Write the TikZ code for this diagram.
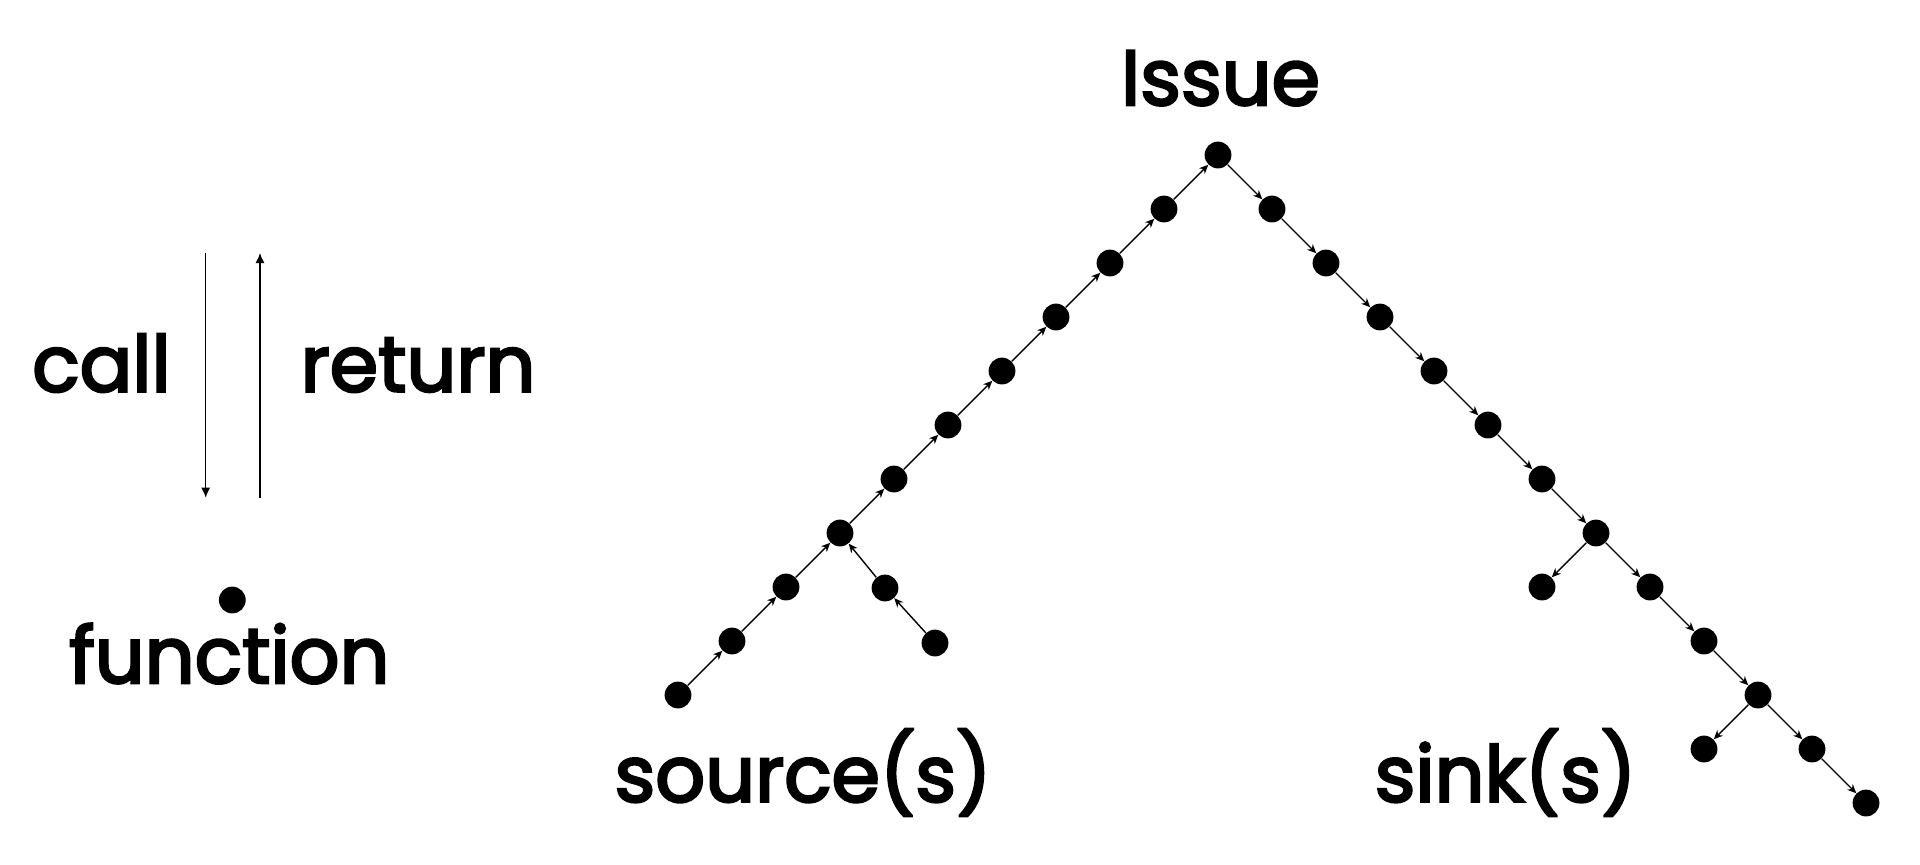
\documentclass[tikz,border=0pt]{standalone}
\usepackage{fontspec}
\setmainfont{Poppins}
\newfontfamily\lblfont{Poppins}[FakeBold=3.2]
\usetikzlibrary{arrows.meta}
\begin{document}
\begin{tikzpicture}[x=0.5pt,y=-0.5pt,
  dot/.style={circle,fill=black,inner sep=0pt,minimum size=13.4pt},
  edge/.style={-{Stealth[length=4.5pt,width=4pt]},line width=0.7pt},
  legarrow/.style={-{Latex[length=5pt,width=4.5pt]},line width=0.65pt},
  lbl/.style={font=\lblfont\fontsize{39}{39}\selectfont,inner sep=0pt,anchor=base}]
\useasboundingbox (0,0) rectangle (1920,864);
% labels
\node[lbl] (issue) at (1220.5,105) {Issue};
\node[lbl] (source) at (803,801.7) {source(s)};
\node[lbl] (sink) at (1505.5,801.7) {sink(s)};
\node[lbl] (call) at (101.5,391.5) {call};
\node[lbl] (return) at (418,391.5) {return};
\node[lbl] (function) at (229.3,683) {function};
% legend
\node[dot] (fdot) at (232.3,600) {};
\coordinate (c1) at (205.7,252.7);
\coordinate (c2) at (205.7,497.7);
\coordinate (r1) at (260,497.7);
\coordinate (r2) at (260,253);
\draw[legarrow] (c1) -- (c2);
\draw[legarrow] (r1) -- (r2);
% tree nodes
\node[dot] (L0) at (1218,155) {};
\foreach \i in {1,...,10}{
  \node[dot] (L\i) at ({1218-54*\i},{155+54*\i}) {};
}
\foreach \i in {1,...,12}{
  \node[dot] (R\i) at ({1218+54*\i},{155+54*\i}) {};
}
\node[dot] (LB1) at (885,588) {};
\node[dot] (LB2) at (935,643) {};
\node[dot] (RB1) at (1542,587) {};
\node[dot] (RB2) at (1704,749) {};
% left chain: arrows towards the issue
\foreach \i [evaluate=\i as \j using int(\i-1)] in {1,...,10}{
  \draw[edge] (L\i) -- (L\j);
}
\draw[edge] (LB2) -- (LB1);
\draw[edge] (LB1) -- (L7);
% right chain: arrows towards the sinks
\draw[edge] (L0) -- (R1);
\foreach \i [evaluate=\i as \j using int(\i+1)] in {1,...,11}{
  \draw[edge] (R\i) -- (R\j);
}
\draw[edge] (R7) -- (RB1);
\draw[edge] (R10) -- (RB2);
\end{tikzpicture}
\end{document}
